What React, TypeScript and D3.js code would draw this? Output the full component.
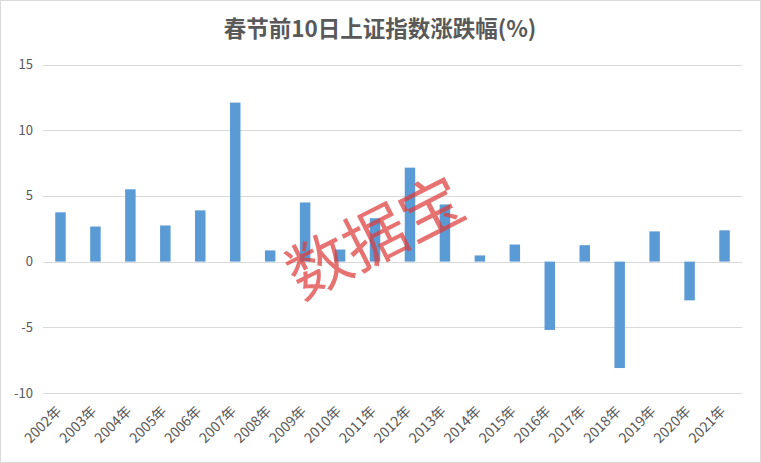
import React from "react";
import * as d3 from "d3";

const years = ["2002年","2003年","2004年","2005年","2006年","2007年","2008年","2009年","2010年","2011年","2012年","2013年","2014年","2015年","2016年","2017年","2018年","2019年","2020年","2021年"];
const values = [3.75, 2.67, 5.5, 2.75, 3.9, 12.1, 0.85, 4.5, 0.92, 3.3, 7.15, 4.35, 0.47, 1.3, -5.2, 1.25, -8.1, 2.3, -2.95, 2.38];
const yTicks = [-10, -5, 0, 5, 10, 15];
const title = "春节前10日上证指数涨跌幅(%)";
const watermark = "数据宝";

const W = 761, H = 463;
const left = 43, right = 742, top = 64.5, bottom = 393;

export default function App() {
  const x = d3.scaleBand<string>().domain(years).range([left, right]).paddingInner(0.7).paddingOuter(0.35);
  const y = d3.scaleLinear().domain([-10, 15]).range([bottom, top]);
  const font = "'Noto Sans CJK SC', 'Noto Sans', sans-serif";
  return (
    <svg width={W} height={H} style={{ position: "absolute", left: 0, top: 0, background: "#fff" }} fontFamily={font}>
      <rect x={0.5} y={0.5} width={W - 1} height={H - 1} fill="#fff" stroke="#d9d9d9" />
      <text x={380} y={37} textAnchor="middle" fontSize={22.5} fontWeight="bold" fill="#595959">{title}</text>
      {yTicks.map(t => (
        <g key={t}>
          <line x1={left} x2={right} y1={Math.round(y(t)) + 0.5} y2={Math.round(y(t)) + 0.5} stroke="#d9d9d9" strokeWidth={1} />
          <text x={33} y={y(t) + 4.5} textAnchor="end" fontSize={13} fill="#595959">{t}</text>
        </g>
      ))}
      {values.map((v, i) => (
        <rect key={years[i]} x={x(years[i])!} width={x.bandwidth()} y={y(Math.max(0, v))} height={Math.abs(y(v) - y(0))} fill="#5b9bd5" />
      ))}
      {years.map(yr => {
        const cx = x(yr)! + x.bandwidth() / 2 + 2;
        return (
          <text key={yr} transform={`translate(${cx},${412}) rotate(-45)`} textAnchor="end" fontSize={14} fill="#595959">{yr}</text>
        );
      })}
      <text transform="translate(373,233) rotate(-27)" textAnchor="middle" dominantBaseline="central" fontSize={63} fill="rgba(220,60,60,0.72)">{watermark}</text>
    </svg>
  );
}
